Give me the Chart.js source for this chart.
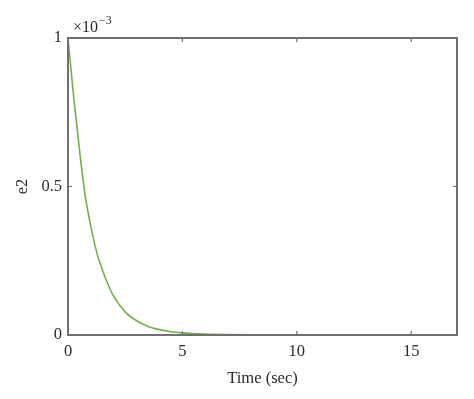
<!DOCTYPE html>
<html>
<head>
<meta charset="utf-8">
<script src="https://cdn.jsdelivr.net/npm/chart.js@4/dist/chart.umd.min.js"></script>
<style>
  html, body { margin: 0; padding: 0; background: #fff; }
  #wrap { width: 474px; height: 399px; }
</style>
</head>
<body>
<div id="wrap"><canvas id="chartE2" width="474" height="399"></canvas></div>
<script>
/* =========================
   DADOS
========================= */

// tempo (s)
const timeSec = [0, 0.25, 0.5, 0.75, 1, 1.25, 1.5, 1.75, 2, 2.5, 3, 3.5, 4, 4.5, 5, 6, 7, 8, 10, 12, 14, 17];
// e2 em unidades de 1e-3
const e2Vals = [1, 0.80, 0.625, 0.47, 0.365, 0.28, 0.22, 0.17, 0.13, 0.078, 0.048, 0.029, 0.018, 0.011, 0.007, 0.0028, 0.0011, 0.0004, 0.0001, 0, 0, 0];

const xTicks = [0, 5, 10, 15];
const yTicks = [0, 0.5, 1];

const axisColor = "#707070";
const textColor = "#2a2a2a";
const serif = "'Liberation Serif', 'DejaVu Serif', serif";

/* =========================
   PLUGIN: moldura + ticks internos
========================= */

const framePlugin = {
  id: "frame",
  afterDraw(chart) {
    const { ctx, chartArea: a, scales } = chart;
    ctx.save();
    ctx.strokeStyle = axisColor;
    ctx.lineWidth = 2;
    ctx.strokeRect(a.left, a.top, a.right - a.left, a.bottom - a.top);

    ctx.lineWidth = 1.2;
    ctx.beginPath();
    scales.x.ticks.forEach((t, i) => {
      const px = scales.x.getPixelForTick(i);
      ctx.moveTo(px, a.bottom); ctx.lineTo(px, a.bottom - 4);
      ctx.moveTo(px, a.top); ctx.lineTo(px, a.top + 4);
    });
    scales.y.ticks.forEach((t, i) => {
      const py = scales.y.getPixelForTick(i);
      ctx.moveTo(a.left, py); ctx.lineTo(a.left + 4, py);
      ctx.moveTo(a.right, py); ctx.lineTo(a.right - 4, py);
    });
    ctx.stroke();

    // multiplicador do eixo y
    ctx.fillStyle = textColor;
    ctx.textBaseline = "alphabetic";
    ctx.font = "16px " + serif;
    ctx.fillText("\u00d710", a.left + 5, a.top - 6);
    const w = ctx.measureText("\u00d710").width;
    ctx.font = "12px " + serif;
    ctx.fillText("\u22123", a.left + 5 + w + 1, a.top - 14);
    ctx.restore();
  }
};

/* =========================
   CHART
========================= */

new Chart(document.getElementById("chartE2"), {
  type: "line",
  data: {
    datasets: [{
      data: timeSec.map((t, i) => ({ x: t, y: e2Vals[i] })),
      borderColor: "#74b04a",
      borderWidth: 1.6,
      pointRadius: 0,
      cubicInterpolationMode: "monotone",
      fill: false
    }]
  },
  options: {
    responsive: false,
    devicePixelRatio: 1,
    animation: false,
    layout: { padding: { top: 38, right: 17, left: 0, bottom: 0 } },
    plugins: {
      legend: { display: false },
      tooltip: { enabled: false }
    },
    scales: {
      x: {
        type: "linear",
        min: 0,
        max: 17,
        afterBuildTicks: s => { s.ticks = xTicks.map(v => ({ value: v })); },
        afterFit: s => { s.height = 64; },
        grid: { display: false, drawTicks: false },
        border: { display: false },
        ticks: {
          color: textColor,
          padding: 7,
          maxRotation: 0,
          font: { family: serif, size: 16.5 }
        },
        title: {
          display: true,
          text: "Time (sec)",
          color: textColor,
          padding: { top: 4, bottom: 10 },
          font: { family: serif, size: 16.5 }
        }
      },
      y: {
        min: 0,
        max: 1,
        afterBuildTicks: s => { s.ticks = yTicks.map(v => ({ value: v })); },
        afterFit: s => { s.width = 68; },
        grid: { display: false, drawTicks: false },
        border: { display: false },
        ticks: {
          color: textColor,
          padding: 6,
          font: { family: serif, size: 16.5 },
          callback: v => String(v)
        },
        title: {
          display: true,
          text: "e2",
          color: textColor,
          padding: { top: 13, bottom: 0 },
          font: { family: serif, size: 16.5 }
        }
      }
    }
  },
  plugins: [framePlugin]
});
</script>
</body>
</html>
